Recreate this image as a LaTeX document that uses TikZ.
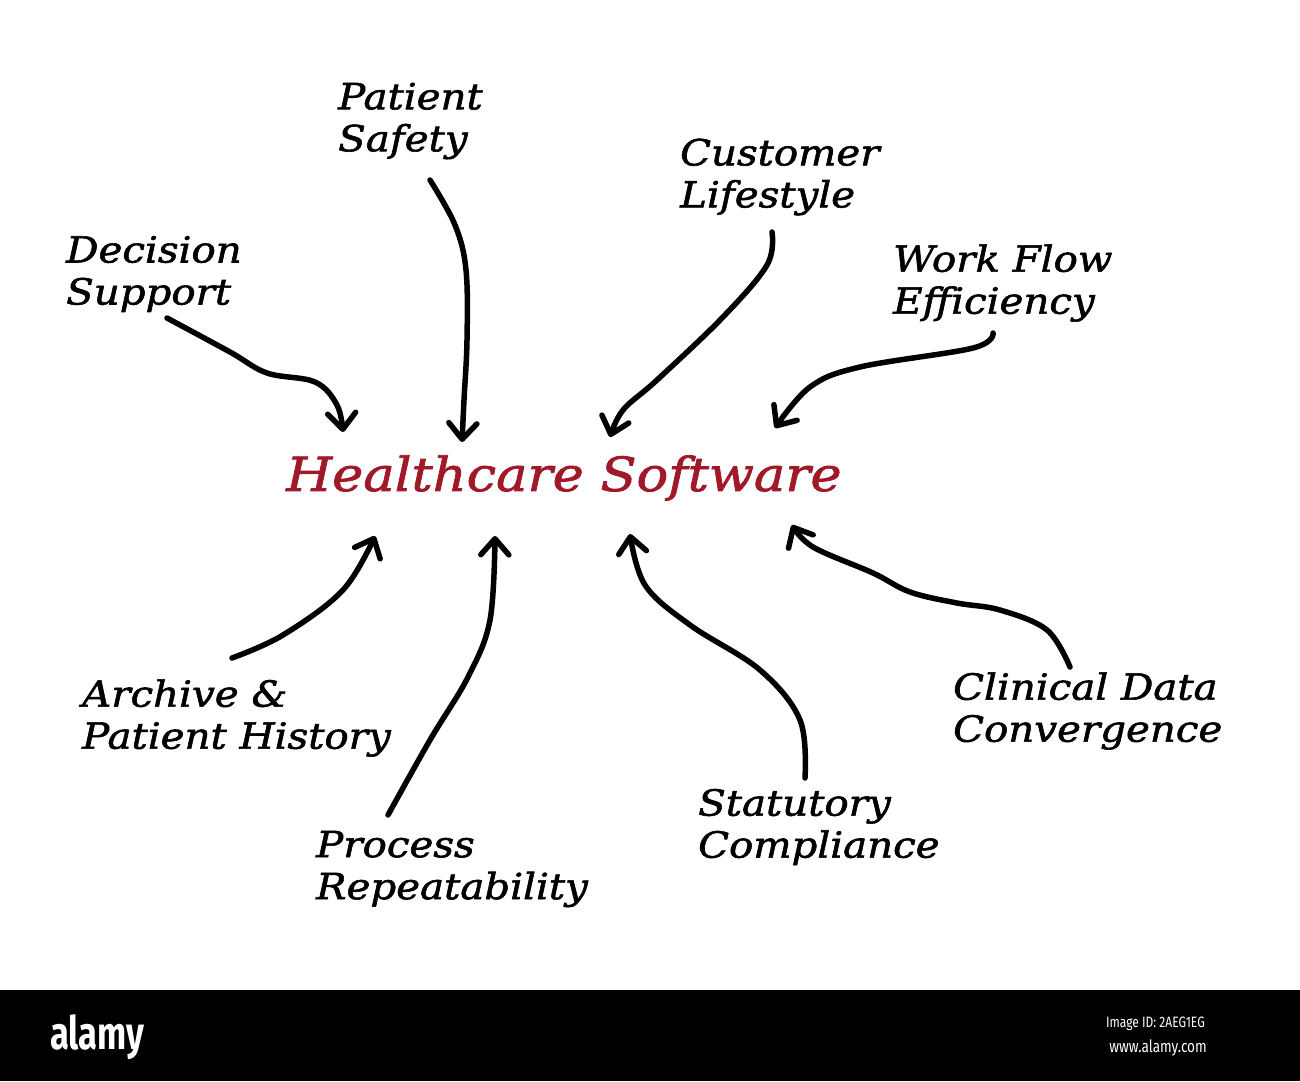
\documentclass[tikz,border=0pt]{standalone}
\usepackage{fontspec}
\setmainfont{DejaVu Serif}
\newfontfamily\hand{DejaVu Serif}[FakeStretch=1.12, FakeBold=1.6]
\newfontfamily\barfont{Fira Sans}
\usetikzlibrary{arrows.meta}
\definecolor{hcred}{RGB}{160,25,40}
\tikzset{
  lbl/.style={font=\hand\fontsize{36}{42}\selectfont\itshape, align=left, anchor=west, inner sep=0pt, text=black},
  hub/.style={font=\hand\fontsize{47}{50}\selectfont\itshape, inner sep=0pt, text=hcred},
  arr/.style={line width=5.5pt, line cap=round, line join=round, draw=black,
    -{Straight Barb[length=16pt,width=28pt,round]}},
}
\begin{document}
\begin{tikzpicture}[x=1pt,y=-1pt]
\useasboundingbox (0,0) rectangle (1300,1081);
\fill[white] (0,0) rectangle (1300,990);
\fill[black] (0,990) rectangle (1300,1081);

\node[hub] (hc) at (564,478) {Healthcare Software};

\node[lbl] (dec) at (66,274) {Decision\\Support};
\node[lbl] (pat) at (338,121) {Patient\\Safety};
\node[lbl] (cus) at (680,177) {Customer\\Lifestyle};
\node[lbl] (wor) at (893,283) {Work Flow\\Efficiency};
\node[lbl] (arc) at (82,718) {Archive \&\\Patient History};
\node[lbl] (pro) at (316,869) {Process\\Repeatability};
\node[lbl] (sta) at (698,827) {Statutory\\Compliance};
\node[lbl] (cli) at (953,711) {Clinical Data\\Convergence};

% arrow end points
\coordinate (s1) at (167,318); \coordinate (e1) at (343,432);
\coordinate (s2) at (430,180); \coordinate (e2) at (462,442);
\coordinate (s3) at (772,232); \coordinate (e3) at (610,437);
\coordinate (s4) at (993,333); \coordinate (e4) at (775,428);
\coordinate (s5) at (232,658); \coordinate (e5) at (375,536);
\coordinate (s6) at (388,815); \coordinate (e6) at (495,536);
\coordinate (s7) at (805,778); \coordinate (e7) at (630,534);
\coordinate (s8) at (1070,667); \coordinate (e8) at (792,525);

\draw[arr] plot[smooth, tension=0.6] coordinates {(s1) (230,352) (267,373) (315,382) (337,405) (e1)};
\draw[arr] plot[smooth, tension=0.6] coordinates {(s2) (455,225) (466,270) (467,340) (464,400) (e2)};
\draw[arr] plot[smooth, tension=0.6] coordinates {(s3) (767,265) (723,317) (657,380) (623,410) (e3)};
\draw[arr] plot[smooth, tension=0.6] coordinates {(s4) (973,348) (860,367) (810,387) (e4)};
\draw[arr] plot[smooth, tension=0.6] coordinates {(s5) (283,635) (343,590) (e5)};
\draw[arr] plot[smooth, tension=0.6] coordinates {(s6) (430,740) (468,677) (490,620) (e6)};
\draw[arr] plot[smooth, tension=0.6] coordinates {(s7) (800,720) (760,670) (690,625) (645,585) (e7)};
\draw[arr] plot[smooth, tension=0.6] coordinates {(s8) (1047,630) (1000,610) (957,603) (910,592) (873,573) (813,547) (e8)};

% watermark bar
\node[text=white, font=\barfont\bfseries\fontsize{46}{46}\selectfont, anchor=west, inner sep=0pt] (alamy) at (50,1037) {\scalebox{0.75}[1]{alamy}};
\node[text=white, font=\barfont\fontsize{15}{15}\selectfont, anchor=east, inner sep=0pt] (imgid) at (1205,1024) {\scalebox{0.8}[1]{Image ID: 2AEG1EG}};
\node[text=white, font=\barfont\fontsize{17}{17}\selectfont, anchor=east, inner sep=0pt] (www) at (1207,1048) {\scalebox{0.8}[1]{www.alamy.com}};
\end{tikzpicture}
\end{document}
